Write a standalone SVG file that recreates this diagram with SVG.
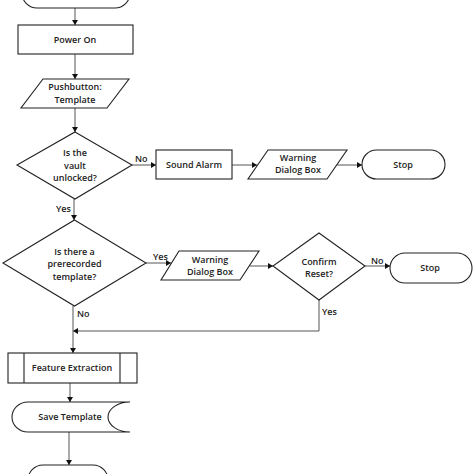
<svg xmlns="http://www.w3.org/2000/svg" width="474" height="474" viewBox="0 0 474 474">
<style>
.s{fill:#fff;stroke:#222;stroke-width:1.1}
.c{fill:none;stroke:#555;stroke-width:1}
.t{font-family:"Open Sans","Liberation Sans",sans-serif;font-size:9px;font-weight:600;fill:#222;text-anchor:middle}
.l{font-family:"Open Sans","Liberation Sans",sans-serif;font-size:9px;font-weight:600;fill:#222}
</style>
<defs>
<marker id="a" markerWidth="6" markerHeight="6" refX="5" refY="3" orient="auto" markerUnits="userSpaceOnUse">
<path d="M0,0 L5,3 L0,6 Z" fill="#111"/>
</marker>
</defs>
<rect width="474" height="474" fill="#fff"/>
<g id="connectors">
<path class="c" d="M75,8 V25" marker-end="url(#a)"/>
<path class="c" d="M75,54 V79" marker-end="url(#a)"/>
<path class="c" d="M75,108 V132" marker-end="url(#a)"/>
<path class="c" d="M132,165 H156" marker-end="url(#a)"/>
<path class="c" d="M232,165 H257" marker-end="url(#a)"/>
<path class="c" d="M337,165 H362" marker-end="url(#a)"/>
<path class="c" d="M74,199 V220" marker-end="url(#a)"/>
<path class="c" d="M146,263 H171" marker-end="url(#a)"/>
<path class="c" d="M250,266 H273" marker-end="url(#a)"/>
<path class="c" d="M365,266 H390" marker-end="url(#a)"/>
<path class="c" d="M319,300 V331 H73" marker-end="url(#a)"/>
<path class="c" d="M73,306 V353" marker-end="url(#a)"/>
<path class="c" d="M70,383 V402" marker-end="url(#a)"/>
<path class="c" d="M69,432 V465" marker-end="url(#a)"/>
<text class="l" x="135" y="162">No</text>
<text class="l" x="56" y="212">Yes</text>
<text class="l" x="153" y="260">Yes</text>
<text class="l" x="371" y="264">No</text>
<text class="l" x="77" y="317">No</text>
<text class="l" x="322" y="315">Yes</text>
</g>
<g id="start">
<rect class="s" x="22" y="-22" width="108" height="30" rx="15"/>
</g>
<g id="power-on">
<rect class="s" x="18" y="25" width="115" height="29"/>
<text class="t" x="75" y="43">Power On</text>
</g>
<g id="pushbutton">
<polygon class="s" points="43,79 129,79 107,108 21,108"/>
<text class="t" x="75" y="90">Pushbutton:</text>
<text class="t" x="75" y="102.5">Template</text>
</g>
<g id="vault-unlocked">
<polygon class="s" points="75,132 132,165 75,199 17,165"/>
<text class="t" x="75" y="156">Is the</text>
<text class="t" x="75" y="168.5">vault</text>
<text class="t" x="75" y="181">unlocked?</text>
</g>
<g id="sound-alarm">
<rect class="s" x="156" y="150" width="76" height="29"/>
<text class="t" x="194" y="168">Sound Alarm</text>
</g>
<g id="warning1">
<polygon class="s" points="268,150 347,150 327,179 248,179"/>
<text class="t" x="298" y="160.5">Warning</text>
<text class="t" x="298" y="173">Dialog Box</text>
</g>
<g id="stop1">
<rect class="s" x="362" y="150" width="83" height="29" rx="14.5"/>
<text class="t" x="403" y="168">Stop</text>
</g>
<g id="prerecorded">
<polygon class="s" points="74.5,220 146,263 74.5,306 3,263"/>
<text class="t" x="74.5" y="254.5">Is there a</text>
<text class="t" x="74.5" y="267">prerecorded</text>
<text class="t" x="74.5" y="279.5">template?</text>
</g>
<g id="warning2">
<polygon class="s" points="179,251 259,251 240,280 161,280"/>
<text class="t" x="210" y="262.5">Warning</text>
<text class="t" x="210" y="275">Dialog Box</text>
</g>
<g id="confirm-reset">
<polygon class="s" points="319,233 365,266 319,300 273,266"/>
<text class="t" x="319" y="264.5">Confirm</text>
<text class="t" x="319" y="277">Reset?</text>
</g>
<g id="stop2">
<rect class="s" x="390" y="253" width="82" height="30" rx="15"/>
<text class="t" x="430" y="271">Stop</text>
</g>
<g id="feature-extraction">
<rect class="s" x="8" y="353" width="129" height="30"/>
<path class="s" d="M24,353 V383 M120,353 V383"/>
<text class="t" x="72" y="371">Feature Extraction</text>
</g>
<g id="save-template">
<path class="s" d="M28,402 H130 A22 15 0 0 0 130,432 H28 A16 15 0 0 1 28,402 Z"/>
<text class="t" x="70" y="420">Save Template</text>
</g>
<g id="end">
<rect class="s" x="28" y="465" width="80" height="30" rx="15"/>
</g>
</svg>
